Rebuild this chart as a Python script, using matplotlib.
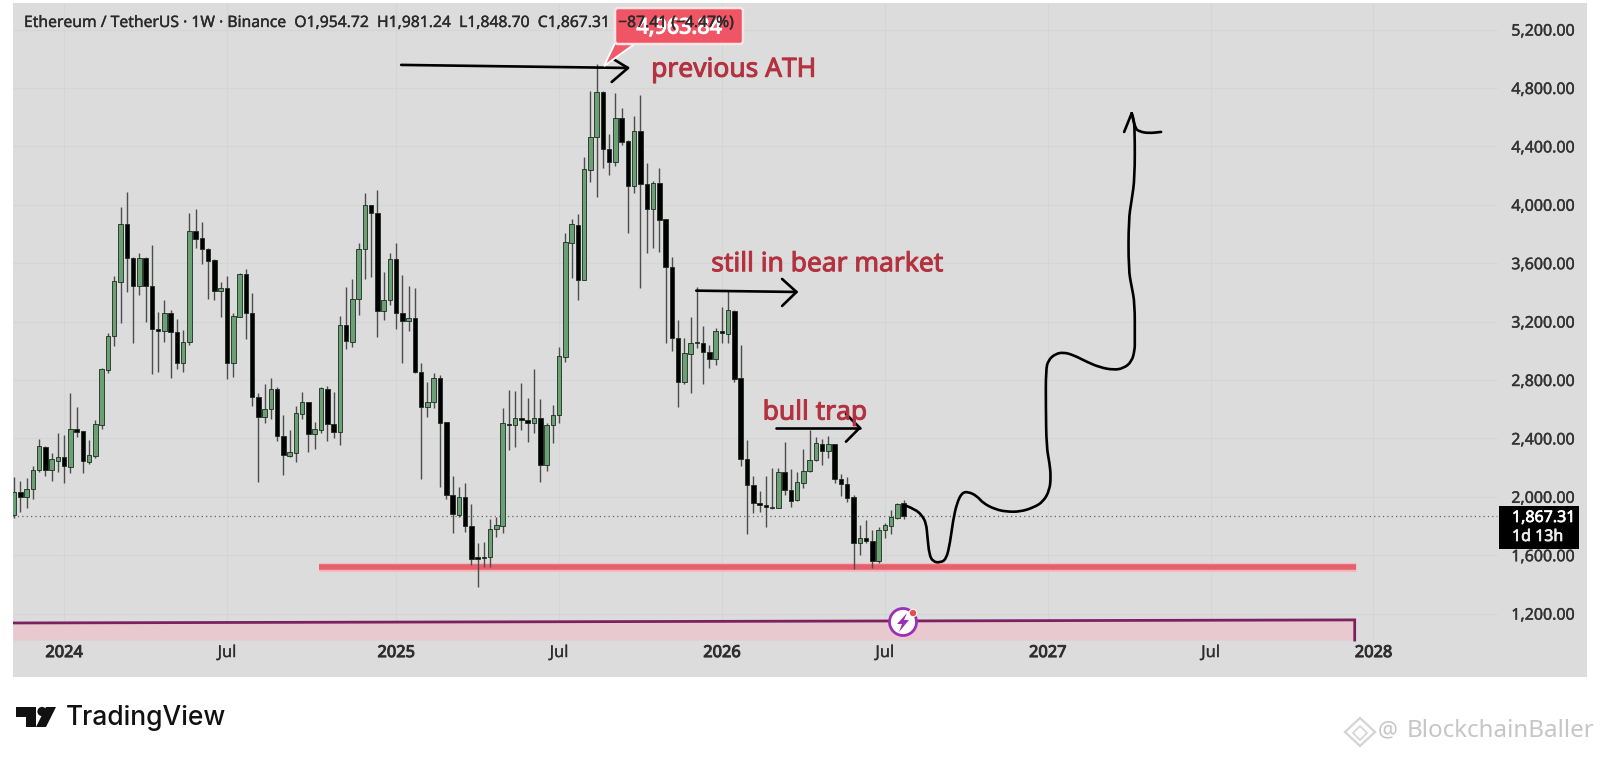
import matplotlib
matplotlib.use("Agg")
import matplotlib.pyplot as plt
from matplotlib.patches import Polygon, Circle, Rectangle, FancyBboxPatch, PathPatch
from matplotlib.path import Path
import matplotlib.patheffects as pe

opens = [1876,2033,2001,2051,2184,2343,2184,2247,2275,2206,
2462,2453,2240,2279,2492,2868,3103,3473,3868,3633,
3444,3633,3446,3147,3138,3256,3126,2918,3060,3818,
3770,3695,3619,3407,3428,2918,3233,3526,3261,2681,
2544,2603,2738,2418,2281,2302,2567,2651,2428,2457,
2738,2498,2446,3176,3062,3352,3695,3996,3946,3272,
3348,3631,3257,3207,3227,2857,
2617,2652,2811,2515,2012,1875,2001,1800,1585,1590,1585,1780,1800,2501,2490,2542,2526,2503,2542,2216,2492,2558,
2960,3741,3862,3485,4239,4462,4773,4380,4293,4597,4437,4129,4506,4140,3969,4152,3901,3572,
3086,2789,2978,3051,3051,2994,2942,3133,3115,3275,2812,2259,2081,1960,1946,1926,1926,2168,2047,1978,2097,2177,2252,2362,2314,2362,2124,2088,2001,1681,1718,1697,1560,1773,1800,1853,1954.72]
closes = [2035,2001,2051,2184,2348,2184,2256,2275,2211,2462,
2446,2247,2286,2498,2873,3103,3478,3868,3633,3444,
3638,3444,3147,3138,3256,3126,2918,3060,3818,3768,
3697,3615,3407,3428,2918,3238,3526,3256,2681,2544,
2603,2738,2416,2286,2309,2571,2651,2428,2462,2743,
2498,2446,3174,3065,3354,3699,3996,3946,3272,3348,
3631,3256,3207,3227,2857,2617,
2652,2811,2508,2012,1880,2001,1800,1572,1574,1581,1782,1805,2503,2492,2542,2528,2506,2542,2216,2492,2560,2964,
3745,3866,3485,4243,4462,4773,4380,4293,4597,4433,4129,4506,4140,3969,4152,3896,3572,3086,
2789,2983,3051,3060,2992,2942,3133,3120,3280,2805,2257,2081,1960,1944,1930,1933,2168,2047,1974,2104,2179,2252,2366,2314,2359,2122,2088,1992,1681,1718,1697,1563,1773,1805,1864,1951,1867.31]
highs = [2138,2111,2127,2211,2394,2348,2298,2439,2423,2708,
2613,2453,2389,2526,2880,3119,3512,3987,4090,3640,
3672,3640,3724,3268,3348,3279,3215,3142,3941,3969,
3884,3702,3626,3473,3512,3261,3535,3558,3393,2708,
2772,2811,2754,2560,2457,2622,2720,2651,2514,2750,
2759,2720,3238,3439,3489,3736,4083,3998,4101,3542,
3667,3736,3519,3446,3428,2914,
2789,2846,2834,2515,2143,2065,2097,1951,1681,1693,1848,1864,2606,2732,2727,2782,2675,2873,2668,2508,2629,3028,
3809,3901,3935,4325,4782,4963.84,4782,4485,4764,4661,4444,4608,4752,4284,4166,4250,3901,3645,
3211,3086,3234,3439,3170,3040,3154,3298,3412,3280,3040,2389,2143,2042,2143,2195,2195,2378,2191,2172,2325,2458,2412,2394,2417,2362,2156,2133,2012,1807,1841,1773,1791,1818,1910,1955,1981.24]
lows = [1853,1898,1921,1983,2172,2142,2110,2172,2097,2160,
2412,2165,2224,2263,2462,2850,3033,3192,3405,3051,
3382,3199,2841,2857,3062,2811,2873,2857,3039,3702,
3594,3352,3348,3233,2804,2818,3229,3078,2622,2103,
2507,2530,2384,2147,2275,2240,2530,2309,2325,2439,
2384,2400,2352,3010,3023,3247,3489,3503,3097,3211,
3314,3147,2919,3138,2846,2120,
2544,2606,2069,1983,1750,1864,1761,1533,1385,1522,1522,1727,1750,2321,2339,2458,2378,2435,2104,2179,2366,2508,
2926,3497,3348,3485,4159,4051,4250,4204,4266,4410,3809,4079,3430,3668,3707,3677,3051,3001,
2617,2773,2709,3017,2773,2880,2903,3056,3056,2789,2211,1745,1887,1898,1791,1914,1921,2012,1933,1974,2058,2172,2248,2218,2264,2092,2006,1967,1506,1601,1681,1510,1544,1716,1745,1846,1848.70]
assert len(opens) == len(closes) == len(highs) == len(lows) == 143

price_ticks = [1200, 1600, 2000, 2400, 2800, 3200, 3600, 4000, 4400, 4800, 5200]
time_ticks = [8, 34, 61, 87, 113, 139, 165, 191, 217]
time_labels = ["2024", "Jul", "2025", "Jul", "2026", "Jul", "2027", "Jul", "2028"]
last_price = 1867.31
support_level = 1522
support_span = [48.7, 214.2]
indicator_x = [-0.16, 214]
indicator_y = [1136, 1157]
indicator_base = 1019

forecast_x = [142.5,143.8,144.9,145.6,145.8,146.1,146.7,147.8,148.8,149.4,149.9,150.5,151.3,152.3,153.7,154.7,156.6,158.4,160.6,162.7,164.3,165.3,165.5,165.3,164.8,164.7,164.7,165.1,166.2,167.5,169.1,171.2,173.3,175.5,177.1,178.4,178.9,178.9,178.9,178.4,177.9,177.9,178.4,178.9,178.9,178.7,178.4]
forecast_y = [1937,1915,1875,1819,1727,1602,1556,1549,1572,1682,1841,1956,2028,2035,2006,1956,1915,1898,1898,1926,1967,2047,2138,2230,2343,2617,2869,2937,2978,2990,2971,2925,2887,2869,2880,2925,3006,3074,3325,3439,3554,3896,4033,4182,4512,4592,4627]
tip_x = [177.2,178.4]
tip_y = [4499,4627]
tail_x = [178.4,178.9,179.7,181.1,183.1]
tail_y = [4627,4524,4501,4490,4499]

arrows = [
    ([61.8, 98.0], [4958, 4937], [95.4, 98.0, 95.4], [5005, 4937, 4841]),
    ([108.9, 124.9], [3412, 3403], [122.6, 124.9, 122.6], [3492, 3403, 3307]),
    ([121.7, 135.0], [2473, 2473], [132.8, 135.0, 132.8], [2567, 2473, 2378]),
]
notes = [("previous ATH", 101.7, 4925), ("still in bear market", 111.3, 3593), ("bull trap", 119.5, 2577)]

W, H = 1600, 757
BG = "#dcdcdc"
GRID = "#d4d6d6"
GREEN = "#6b9f74"

def heavier(width, color):
    return [pe.withStroke(linewidth=width, foreground=color)]

def smooth_ink(axis, xs, ys, **kw):
    # quadratic path that uses the readings as control points
    verts = [(xs[0], ys[0])]
    codes = [Path.MOVETO]
    for i in range(1, len(xs) - 1):
        verts += [(xs[i], ys[i]), ((xs[i] + xs[i + 1]) / 2, (ys[i] + ys[i + 1]) / 2)]
        codes += [Path.CURVE3, Path.CURVE3]
    verts.append((xs[-1], ys[-1]))
    codes.append(Path.LINETO)
    axis.add_patch(PathPatch(Path(verts, codes), fc="none", **kw))

fig = plt.figure(figsize=(W/100, H/100), dpi=100, facecolor="white")
ax = fig.add_axes([13/W, 1-677/H, (1587-13)/W, (677-3)/H], facecolor=BG)
xmax_grid = 236.7
ax.set_xlim(-0.16, 251.08)
ax.set_ylim(766, 5382)
for s in ax.spines.values():
    s.set_visible(False)

ax.hlines(price_ticks, -0.16, xmax_grid, color=GRID, lw=0.8, zorder=1)
ax.vlines(time_ticks, indicator_base, 5382, color=GRID, lw=0.8, zorder=1)

ax.yaxis.tick_right()
ax.set_yticks(price_ticks)
ax.set_yticklabels([f"{p:,.2f}" for p in price_ticks], fontsize=11.5, color="#333333", family="Noto Sans", ha="left",
                   path_effects=heavier(0.3, "#333333"))
ax.tick_params(axis="y", length=0, pad=-54.5)
ax.set_xticks(time_ticks)
ax.set_xticklabels(time_labels, fontsize=11.8, color="#2e2e2e", family="Noto Sans")
for t, lab in zip(ax.get_xticklabels(), time_labels):
    t.set_path_effects(heavier(0.7 if lab != "Jul" else 0.15, "#2e2e2e"))
ax.tick_params(axis="x", length=0, pad=-23)

# indicator strip
ax.fill_between(indicator_x, indicator_y, indicator_base, color="#e8c9cf", lw=0, zorder=2)
ax.plot(indicator_x + [indicator_x[-1]], indicator_y + [indicator_base], color="#7c2160", lw=2.0, zorder=3, solid_joinstyle="miter")

# support
ax.hlines(support_level, *support_span, color="#f6b3b9", lw=6.2, zorder=2.5)
ax.hlines(support_level, *support_span, color="#e5606d", lw=4.0, zorder=2.6)

# last price
ax.hlines(last_price, -0.16, xmax_grid, color="#666666", lw=0.9, linestyles=(0, (1, 2.5)), zorder=2.7)

# candles
xs = list(range(len(opens)))
ax.vlines(xs, lows, highs, color="#4d4d4d", lw=1.0, zorder=4)
bottoms = [min(o, c) for o, c in zip(opens, closes)]
heights = [abs(o - c) for o, c in zip(opens, closes)]
colors = [GREEN if c >= o else "black" for o, c in zip(opens, closes)]
ax.bar(xs, heights, bottom=bottoms, width=0.72, color=colors, edgecolor="#1c2a1e", lw=0.6, zorder=5)

# hand-drawn ink
ink = dict(color="black", lw=1.9, solid_capstyle="round", solid_joinstyle="round", zorder=7)
smooth = dict(ec="black", lw=1.9, capstyle="round", joinstyle="round", zorder=7)
smooth_ink(ax, forecast_x, forecast_y, **smooth)
smooth_ink(ax, tail_x, tail_y, **smooth)
ax.plot(tip_x, tip_y, **ink)
for lx, ly, hx, hy in arrows:
    ax.plot(lx, ly, **ink)
    ax.plot(hx, hy, **ink)
for txt, x, y in notes:
    ax.text(x, y, txt, color="#b4323f", fontsize=19, family="Noto Sans", va="center", ha="left", zorder=8,
            path_effects=heavier(0.7, "#b4323f"))

# overlay in figure pixels for chrome: header, callout, logo, watermark
ov = fig.add_axes([0, 0, 1, 1], facecolor="none", zorder=10)
ov.set_xlim(0, W); ov.set_ylim(H, 0); ov.axis("off")
ov.add_patch(Polygon([(615, 43), (636, 43), (604, 66)], closed=True, fc="#f05a69", ec="white", lw=1.4))
ov.add_patch(FancyBboxPatch((615, 8), 128, 36, boxstyle="round,pad=0,rounding_size=3", fc="#f05565", ec="#fbe4e6", lw=1.8))
ov.text(679, 28, f"{max(highs):,.2f}", color="white", fontsize=15.5, family="Noto Sans", ha="center", va="center",
        path_effects=heavier(0.8, "white"))
header = "Ethereum / TetherUS · 1W · Binance  O1,954.72  H1,981.24  L1,848.70  C1,867.31  −87.41 (−4.47%)"
ov.text(24, 23, header, color="#2a2a2a", fontsize=11.3, family="Noto Sans", ha="left", va="center",
        path_effects=heavier(0.25, "#2a2a2a"))

ov.add_patch(Rectangle((1499, 506), 80, 43, fc="black", ec="none"))
ov.text(1512, 518, f"{last_price:,.2f}", color="white", fontsize=11.5, family="Noto Sans", va="center",
        path_effects=heavier(0.5, "white"))
ov.text(1512, 537, "1d 13h", color="#eeeeee", fontsize=11.5, family="Noto Sans", va="center",
        path_effects=heavier(0.5, "#eeeeee"))

# lightning badge
ov.add_patch(Circle((903, 622), 13.5, fc="white", ec="#9c2fb5", lw=2))
ov.add_patch(Polygon([(907, 613), (897, 624), (902, 624), (899, 632), (909, 620), (904, 620)], closed=True, fc="#9c2fb5", ec="none"))
ov.add_patch(Circle((913, 613), 3.8, fc="#e5504f", ec="white", lw=0.8))

# TradingView logo
ov.add_patch(Polygon([(16, 707), (36, 707), (36, 727), (26, 727), (26, 717), (16, 717)], closed=True, fc="#111111", ec="none"))
ov.add_patch(Circle((42, 711.5), 4.6, fc="#111111", ec="none"))
ov.add_patch(Polygon([(46, 727), (36, 727), (46, 707), (56, 707)], closed=True, fc="#111111", ec="none"))
ov.text(66, 718, "TradingView", color="#111111", fontsize=19, fontweight="medium", family="Inter", va="center", ha="left")

# watermark
ov.add_patch(Polygon([(1360, 718), (1375, 732), (1360, 746), (1345, 732)], closed=True, fc="none", ec="#d4d4d4", lw=1.6))
ov.add_patch(Polygon([(1360, 726), (1367, 733), (1360, 740), (1353, 733)], closed=True, fc="none", ec="#d4d4d4", lw=1.2))
ov.text(1378, 731, "@", color="#c6c6c6", fontsize=16, family="Noto Sans", va="center")
ov.text(1407, 731, "BlockchainBaller", color="#c6c6c6", fontsize=17.4, family="Noto Sans", va="center")

fig.savefig("out.png", dpi=100, facecolor="white")
